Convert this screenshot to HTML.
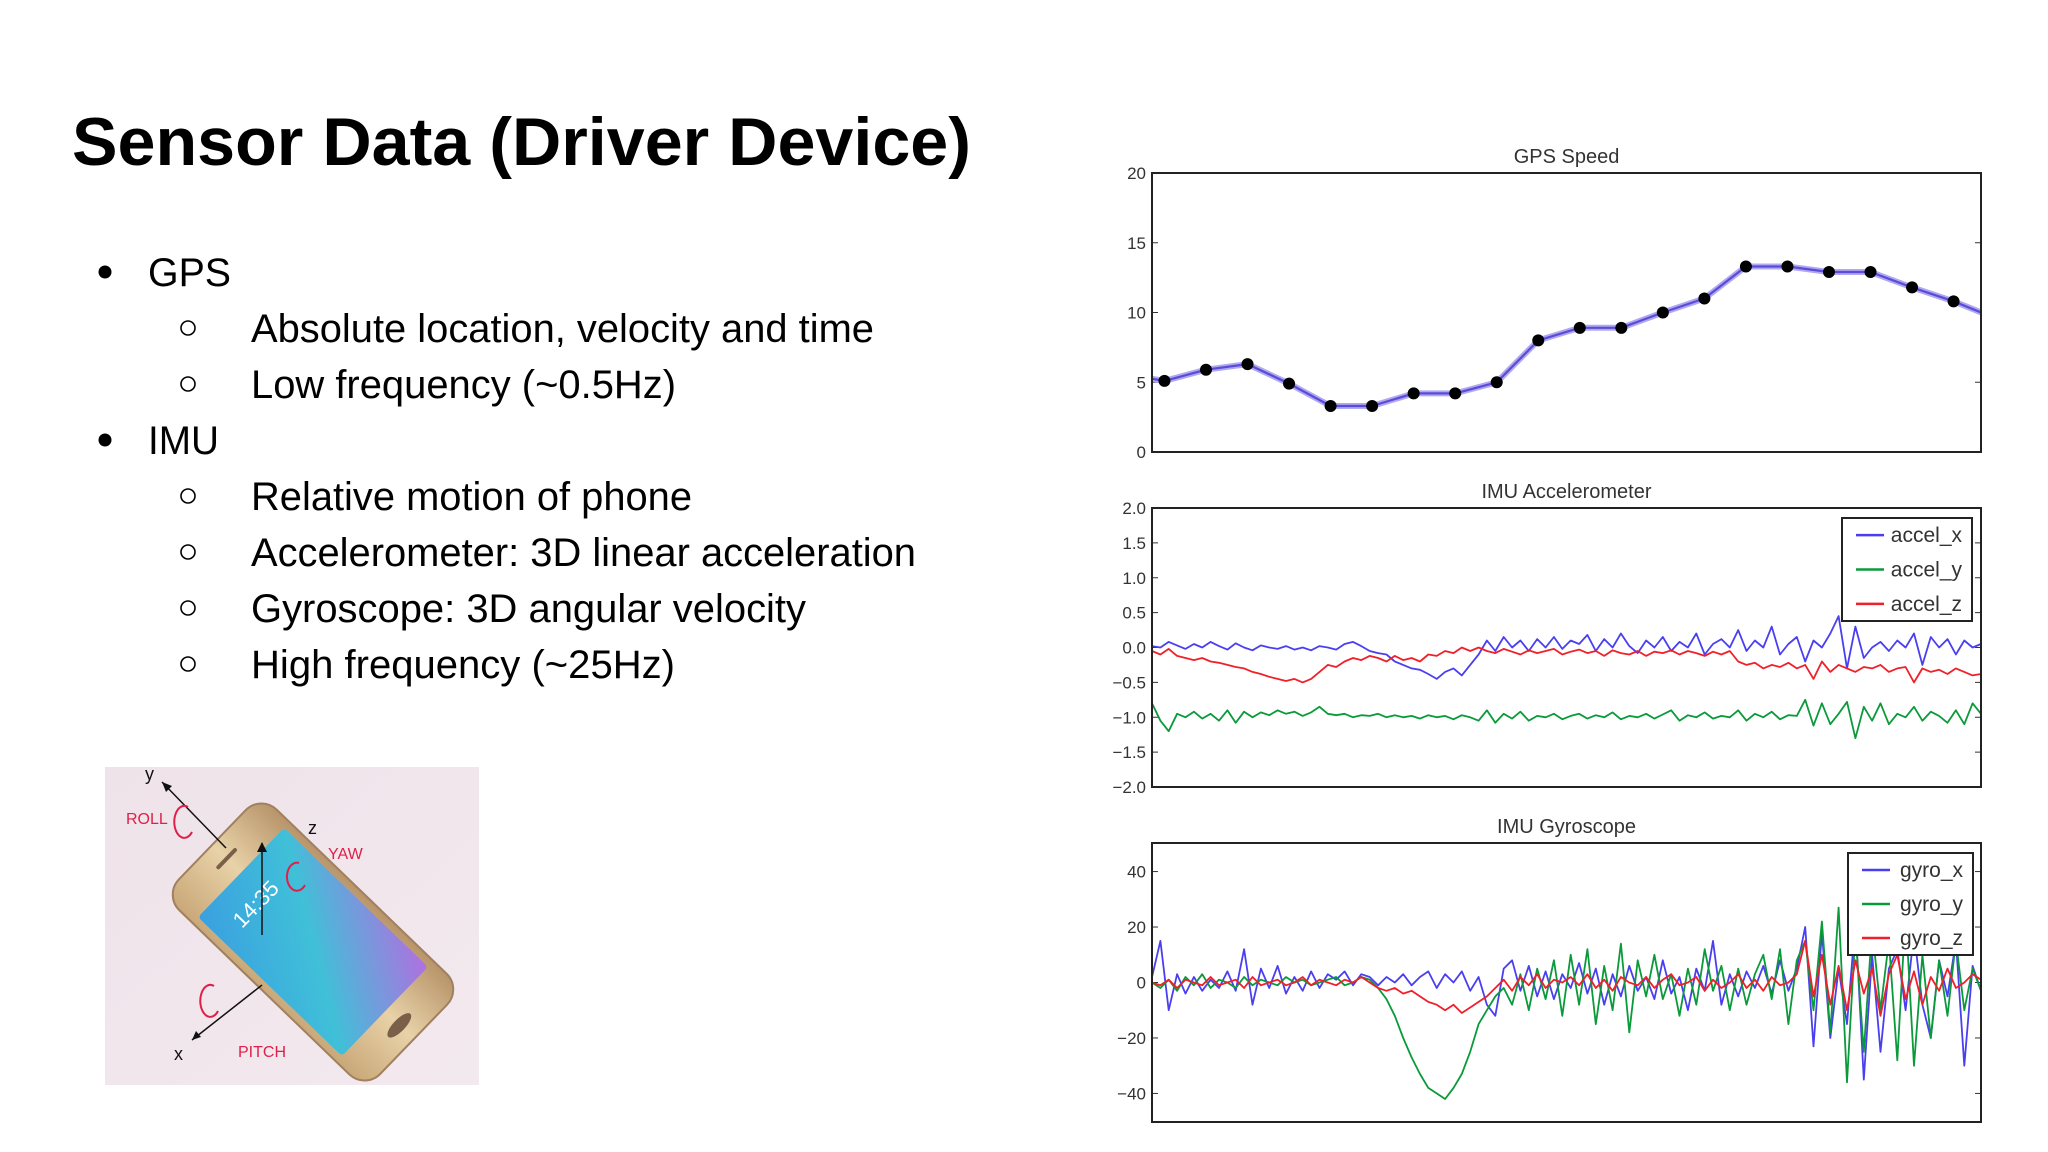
<!DOCTYPE html>
<html><head><meta charset="utf-8">
<style>
html,body{margin:0;padding:0;background:#fff;}
svg{display:block;}
text{font-family:"Liberation Sans",sans-serif;}
.tick{font-family:"Liberation Sans Narrow","Liberation Sans",sans-serif;font-size:17px;fill:#333;}
.ttl{font-family:"Liberation Sans Narrow","Liberation Sans",sans-serif;font-size:20px;fill:#333;}
.leg{font-family:"Liberation Sans Narrow","Liberation Sans",sans-serif;font-size:21px;fill:#333;}
</style></head>
<body>
<svg id="root" width="2048" height="1152" viewBox="0 0 2048 1152" xmlns="http://www.w3.org/2000/svg">
  <text x="72" y="165" font-size="68" font-weight="bold" fill="#000" textLength="899" lengthAdjust="spacingAndGlyphs">Sensor Data (Driver Device)</text>
  <g font-size="40" fill="#000" transform="translate(0 -4)">
    <circle cx="105" cy="276" r="6.5" fill="#000"/>
    <text x="148" y="290" textLength="83" lengthAdjust="spacingAndGlyphs">GPS</text>
    <circle cx="188" cy="332" r="7" fill="none" stroke="#000" stroke-width="1.6"/>
    <text x="251" y="346" textLength="623" lengthAdjust="spacingAndGlyphs">Absolute location, velocity and time</text>
    <circle cx="188" cy="388" r="7" fill="none" stroke="#000" stroke-width="1.6"/>
    <text x="251" y="402" textLength="425" lengthAdjust="spacingAndGlyphs">Low frequency (~0.5Hz)</text>
    <circle cx="105" cy="444" r="6.5" fill="#000"/>
    <text x="148" y="458" textLength="71" lengthAdjust="spacingAndGlyphs">IMU</text>
    <circle cx="188" cy="500" r="7" fill="none" stroke="#000" stroke-width="1.6"/>
    <text x="251" y="514" textLength="441" lengthAdjust="spacingAndGlyphs">Relative motion of phone</text>
    <circle cx="188" cy="556" r="7" fill="none" stroke="#000" stroke-width="1.6"/>
    <text x="251" y="570" textLength="665" lengthAdjust="spacingAndGlyphs">Accelerometer: 3D linear acceleration</text>
    <circle cx="188" cy="612" r="7" fill="none" stroke="#000" stroke-width="1.6"/>
    <text x="251" y="626" textLength="555" lengthAdjust="spacingAndGlyphs">Gyroscope: 3D angular velocity</text>
    <circle cx="188" cy="668" r="7" fill="none" stroke="#000" stroke-width="1.6"/>
    <text x="251" y="682" textLength="424" lengthAdjust="spacingAndGlyphs">High frequency (~25Hz)</text>
  </g>

  <g>
    <defs>
      <linearGradient id="bg" x1="0" y1="0" x2="1" y2="1"><stop offset="0" stop-color="#efe3ea"/><stop offset="1" stop-color="#f2e9ee"/></linearGradient>
      <linearGradient id="scr" x1="0" y1="0" x2="1" y2="1"><stop offset="0" stop-color="#3aa0e0"/><stop offset="0.5" stop-color="#40c0d8"/><stop offset="1" stop-color="#b070e0"/></linearGradient>
      <linearGradient id="gold" x1="0" y1="0" x2="1" y2="0"><stop offset="0" stop-color="#c9a878"/><stop offset="0.5" stop-color="#e8d2a8"/><stop offset="1" stop-color="#b8946a"/></linearGradient>
    </defs>
    <rect x="105" y="767" width="374" height="318" fill="url(#bg)"/>
    <g transform="translate(313 942) rotate(-46)">
      <rect x="-70" y="-140" width="140" height="280" rx="22" fill="url(#gold)" stroke="#a08060" stroke-width="2"/>
      <rect x="-62" y="-100" width="124" height="200" rx="4" fill="url(#scr)"/>
      <text x="-40" y="-60" font-size="22" fill="#fff">14:35</text>
      <ellipse cx="0" cy="120" rx="16" ry="6" fill="#7a6048"/>
      <rect x="-14" y="-122" width="28" height="4" rx="2" fill="#7a6048"/>
    </g>
    <g stroke="#111" stroke-width="1.5" fill="none">
      <line x1="226" y1="848" x2="162" y2="782"/>
      <line x1="262" y1="935" x2="262" y2="843"/>
      <line x1="262" y1="985" x2="192" y2="1040"/>
    </g>
    <g fill="#111"><polygon points="162,782 172,786 166,792"/><polygon points="262,842 257,852 267,852"/><polygon points="192,1040 196,1031 201,1037"/></g>
    <g stroke="#e0204a" stroke-width="2" fill="none">
      <path d="M192 832 a10 16 0 1 1 -4 -25"/><path d="M218 1011 a10 16 0 1 1 -4 -25"/><path d="M305 885 a10 14 0 1 1 -6 -22"/>
    </g>
    <g font-size="16" fill="#e0204a"><text x="126" y="824">ROLL</text><text x="328" y="859">YAW</text><text x="238" y="1057">PITCH</text></g>
    <g font-size="18" fill="#111"><text x="145" y="780">y</text><text x="308" y="834">z</text><text x="174" y="1060">x</text></g>
  </g>

  <g id="charts"></g>
</svg>
<script>
// ---------- data ----------
const gpsIndex = [-1,0,1,2,3,4,5,6,7,8,9,10,11,12,13,14,15,16,17,18,19,20];
const gpsSpeed = [5.6,5.1,5.9,6.3,4.9,3.3,3.3,4.2,4.2,5.0,8.0,8.9,8.9,10.0,11.0,13.3,13.3,12.9,12.9,11.8,10.8,9.6];
const gpsTicks = [0,5,10,15,20];

const accelX = [0.02,0.0,0.08,0.03,-0.02,0.05,0.0,0.08,0.02,-0.03,0.06,0.0,-0.04,0.03,0.0,-0.02,0.02,-0.03,0.0,-0.04,0.02,0.0,-0.03,0.05,0.08,0.02,-0.05,-0.08,-0.1,-0.2,-0.25,-0.3,-0.32,-0.38,-0.45,-0.35,-0.3,-0.4,-0.25,-0.1,0.1,-0.05,0.15,0.0,0.1,-0.05,0.12,0.0,0.15,-0.02,0.1,0.05,0.18,-0.05,0.12,0.0,0.2,0.02,-0.08,0.1,0.0,0.15,-0.05,0.08,0.0,0.2,-0.1,0.05,0.12,0.0,0.25,-0.05,0.1,0.0,0.3,-0.1,0.05,0.15,-0.2,0.1,0.0,0.2,0.45,-0.3,0.3,-0.15,0.0,0.08,-0.05,0.1,0.0,0.2,-0.25,0.15,0.0,0.12,-0.1,0.1,0.0,0.05];
const accelY = [-0.8,-1.05,-1.2,-0.95,-1.0,-0.92,-1.02,-0.95,-1.05,-0.9,-1.08,-0.92,-1.0,-0.93,-0.97,-0.9,-0.95,-0.92,-0.98,-0.93,-0.85,-0.95,-0.97,-0.95,-1.0,-0.97,-0.98,-0.95,-1.0,-0.97,-1.0,-0.98,-1.02,-0.97,-1.0,-0.98,-1.03,-0.97,-1.0,-1.05,-0.9,-1.08,-0.95,-1.02,-0.92,-1.05,-0.98,-1.0,-0.95,-1.03,-0.98,-0.95,-1.02,-0.97,-1.0,-0.93,-1.03,-0.98,-1.0,-0.95,-1.02,-0.96,-0.9,-1.05,-0.97,-1.0,-0.93,-1.02,-0.98,-1.0,-0.9,-1.05,-0.95,-1.0,-0.92,-1.03,-0.97,-0.98,-0.75,-1.12,-0.8,-1.1,-0.95,-0.78,-1.3,-0.85,-1.05,-0.8,-1.1,-0.95,-1.0,-0.85,-1.05,-0.92,-0.98,-1.08,-0.9,-1.1,-0.8,-0.95];
const accelZ = [-0.05,-0.1,-0.02,-0.12,-0.15,-0.18,-0.15,-0.2,-0.22,-0.25,-0.28,-0.3,-0.35,-0.38,-0.42,-0.45,-0.48,-0.45,-0.5,-0.45,-0.35,-0.25,-0.28,-0.2,-0.15,-0.18,-0.12,-0.15,-0.2,-0.12,-0.18,-0.15,-0.2,-0.1,-0.12,-0.05,-0.08,0.0,-0.05,0.0,-0.05,-0.08,-0.02,-0.06,-0.1,-0.04,-0.08,-0.05,-0.02,-0.1,-0.06,-0.03,-0.08,-0.05,-0.12,-0.04,-0.08,-0.1,-0.05,-0.12,-0.06,-0.08,-0.04,-0.1,-0.05,-0.08,-0.12,-0.06,-0.1,-0.05,-0.2,-0.25,-0.22,-0.3,-0.25,-0.28,-0.22,-0.3,-0.25,-0.45,-0.2,-0.35,-0.25,-0.3,-0.35,-0.28,-0.3,-0.25,-0.35,-0.3,-0.28,-0.5,-0.3,-0.35,-0.32,-0.38,-0.3,-0.35,-0.4,-0.38];
const accelTicks = [2.0,1.5,1.0,0.5,0.0,-0.5,-1.0,-1.5,-2.0];
const accelLabels = ["2.0","1.5","1.0","0.5","0.0","\u22120.5","\u22121.0","\u22121.5","\u22122.0"];

const gyroX = [2,15,-10,3,-4,2,-3,1,-2,4,-3,12,-8,5,-2,6,-4,2,-3,4,-2,3,1,4,-1,3,2,-1,2,0,3,-1,2,4,-2,3,0,4,-3,2,-8,-12,5,8,-3,6,-5,4,-6,3,-2,7,-4,5,-8,3,-5,6,-3,2,-6,8,-4,2,-10,5,-3,15,-8,3,-5,4,-2,6,-4,8,-3,5,20,-23,18,-20,5,-15,22,-35,10,-25,5,12,-10,18,-8,-20,8,-5,15,-30,6,-3];
const gyroY = [0,-2,1,-3,2,-1,3,-2,1,0,-2,2,-1,1,0,-1,2,0,1,-1,0,1,2,-1,0,2,1,-2,-6,-12,-20,-27,-33,-38,-40,-42,-38,-33,-25,-15,-10,-5,-2,-8,3,-10,5,-6,8,-12,10,-8,12,-15,6,-10,14,-18,8,-5,10,-6,3,-12,5,-8,12,-3,6,-10,5,-8,3,10,-6,12,-15,8,15,-10,22,-18,27,-36,18,-25,20,-10,15,-28,25,-30,10,-20,8,-12,15,-10,5,-3];
const gyroZ = [0,-1,1,-2,1,0,-1,2,-1,0,1,-2,2,-1,0,1,-1,0,2,-1,1,0,-1,1,0,2,0,-2,-3,-2,-4,-3,-5,-7,-8,-10,-8,-11,-9,-7,-5,-2,1,-3,2,-1,3,-2,1,0,2,-1,3,-2,1,-3,2,0,-1,2,-2,1,3,-1,0,2,-3,1,-2,0,3,-2,1,-3,2,-1,0,3,15,-5,10,-8,6,-10,8,-4,5,-12,3,10,-6,4,-8,2,-3,5,-2,0,3,1];
const gyroTicks = [40,20,0,-20,-40];
const gyroLabels = ["40","20","0","\u221220","\u221240"];

// ---------- drawing ----------
const NS = "http://www.w3.org/2000/svg";
const root = document.getElementById('charts');
function mk(tag, attrs, parent){ const e=document.createElementNS(NS,tag); for(const k in attrs) e.setAttribute(k,attrs[k]); (parent||root).appendChild(e); return e; }
const L=1152, R=1981;
function axes(top,bottom,ymin,ymax,ticks,labels,title,name){
  const g = mk('g',{});
  
  
  const y = v => bottom - (v-ymin)/(ymax-ymin)*(bottom-top);
  const t = mk('text',{x:(L+R)/2,y:top-10,'text-anchor':'middle',class:'ttl'},g); t.textContent=title;
  
  
  ticks.forEach((v,i)=>{
    const yy=y(v);
    mk('line',{x1:L,x2:L+6,y1:yy,y2:yy,stroke:'#333','stroke-width':1},g);
    mk('line',{x1:R-6,x2:R,y1:yy,y2:yy,stroke:'#333','stroke-width':1},g);
    const tl=mk('text',{x:L-6,y:yy+6,'text-anchor':'end',class:'tick'},g); tl.textContent=labels[i];
    
    
  });
  const cid='clip'+name; const cp=mk('clipPath',{id:cid},g); mk('rect',{x:L,y:top,width:R-L,height:bottom-top},cp);
  const plot=mk('g',{'clip-path':'url(#'+cid+')'},g);
  mk('rect',{x:L,y:top,width:R-L,height:bottom-top,fill:'none',stroke:'#222','stroke-width':2},g);
  return {g,plot,y};
}
function line(parent, xs, ys, xf, yf, color, w, name){
  const d = ys.map((v,i)=>(i?'L':'M')+xf(xs[i]).toFixed(1)+' '+yf(v).toFixed(1)).join(' ');
  const p = mk('path',{d:d,fill:'none',stroke:color,'stroke-width':w,'stroke-linejoin':'round'},parent);
  
  
  return p;
}
function legend(g, x0,y0,x1,y1,names,colors,prefix){
  mk('rect',{x:x0,y:y0,width:x1-x0,height:y1-y0,fill:'#fff',stroke:'#222','stroke-width':2},g);
  const step=(y1-y0)/names.length;
  names.forEach((n,i)=>{
    const yy=y0+step*(i+0.5);
    mk('line',{x1:x0+14,x2:x0+42,y1:yy,y2:yy,stroke:colors[i],'stroke-width':2.5},g);
    const t=mk('text',{x:x1-10,y:yy+7,'text-anchor':'end',class:'leg'},g); t.textContent=n;
    
    
  });
}
const BLUE='#4a3ff0', GREEN='#0a9a3a', RED='#f0202a';

// GPS
const gps = axes(173,452,0,20,gpsTicks,gpsTicks.map(String),'GPS Speed','gps-speed-chart');
const gx = i => L + (i+0.3)/(19.66+0.3)*(R-L);
line(gps.plot, gpsIndex, gpsSpeed, gx, gps.y, '#b0a8f0', 6, 'gps-speed-halo');
line(gps.plot, gpsIndex, gpsSpeed, gx, gps.y, '#5a4cd8', 2.2, 'gps-speed-line');
gpsSpeed.forEach((v,i)=>{ if(gpsIndex[i]>=0 && gpsIndex[i]<=19){ const c=mk('circle',{cx:gx(gpsIndex[i]),cy:gps.y(v),r:6,fill:'#000'},gps.plot);
  
   }});

// Accelerometer
const acc = axes(508,787,-2,2,accelTicks,accelLabels,'IMU Accelerometer','accelerometer-chart');
const idx = accelX.map((_,i)=>i);
const ax = i => L + i/(accelX.length-1)*(R-L);
line(acc.plot, idx, accelX, ax, acc.y, BLUE, 1.8, 'accel-x-line');
line(acc.plot, idx, accelY, ax, acc.y, GREEN, 1.8, 'accel-y-line');
line(acc.plot, idx, accelZ, ax, acc.y, RED, 1.8, 'accel-z-line');
legend(acc.g,1842,518,1972,621,['accel_x','accel_y','accel_z'],[BLUE,GREEN,RED],'accel');

// Gyroscope
const gy = axes(843,1122,-50.3,50.3,gyroTicks,gyroLabels,'IMU Gyroscope','gyroscope-chart');
const gidx = gyroX.map((_,i)=>i);
const gxx = i => L + i/(gyroX.length-1)*(R-L);
line(gy.plot, gidx, gyroX, gxx, gy.y, BLUE, 1.8, 'gyro-x-line');
line(gy.plot, gidx, gyroY, gxx, gy.y, GREEN, 1.8, 'gyro-y-line');
line(gy.plot, gidx, gyroZ, gxx, gy.y, RED, 1.8, 'gyro-z-line');
legend(gy.g,1848,853,1973,955,['gyro_x','gyro_y','gyro_z'],[BLUE,GREEN,RED],'gyro');
</script>
</body></html>
